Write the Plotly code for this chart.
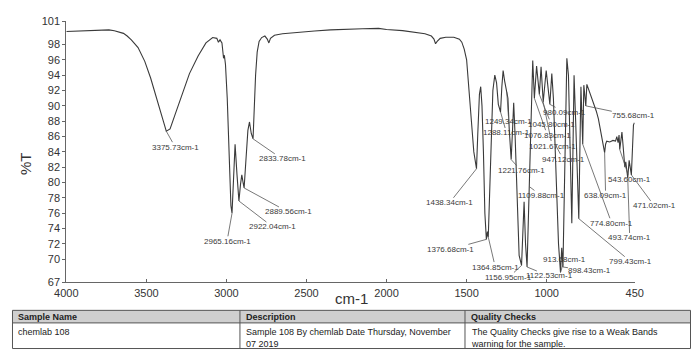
import numpy as np
import plotly.graph_objects as go

# ---- spectrum (wavenumber cm-1, %T) ----
wavenumber = [
    4000, 3900, 3800, 3734, 3700, 3673, 3643, 3620, 3594, 3552, 3510, 3473, 3431, 3401,
    3375.73, 3352, 3322, 3280, 3231, 3177, 3128, 3086, 3060, 3050, 3040, 3028, 3018, 3013,
    3006, 2995, 2982, 2972, 2965.16, 2957, 2946, 2934, 2922.04, 2912, 2904, 2896, 2889.56,
    2878, 2866, 2856, 2845, 2833.78, 2826, 2818, 2808, 2796, 2780, 2760, 2745, 2735, 2725,
    2700, 2650, 2550, 2450, 2350, 2250, 2150, 2050, 2000, 1900, 1820, 1760, 1720, 1704,
    1694, 1684, 1665, 1630, 1580, 1545, 1530, 1515, 1500, 1485, 1470, 1455, 1438.34, 1430,
    1420, 1412, 1404, 1395, 1386, 1376.68, 1370, 1364.85, 1356, 1346, 1336, 1324, 1313,
    1302, 1288.11, 1280, 1272, 1263, 1256, 1249.34, 1242, 1234, 1228, 1221.76, 1214, 1206,
    1197, 1186, 1172, 1156.95, 1150, 1141, 1132, 1122.53, 1116, 1109.88, 1102, 1094, 1087,
    1076.83, 1063, 1045.80, 1035, 1021.67, 1003, 980.09, 968, 958, 947.12, 938, 926, 913.68,
    906, 898.43, 890, 882, 874, 864, 853, 843, 836, 829, 819, 809, 799.43, 792, 786, 780,
    774.80, 768, 762, 755.68, 749, 737, 720, 707, 690, 677, 665, 657, 647, 638.09, 632, 625,
    606, 586, 570, 562, 554, 548, 543.60, 536, 530, 522, 512, 506, 493.74, 485, 478, 471.02,
    464, 458, 452,
]
transmittance = [
    99.7, 99.75, 99.85, 99.9, 99.8, 99.65, 99.45, 99.1, 98.6, 97.6, 95.8, 93.6, 90.8, 88.5,
    86.7, 87.0, 88.8, 91.3, 94.2, 96.5, 98.2, 98.9, 98.8, 98.3, 98.6, 98.2, 96.2, 96.6,
    95.4, 91.0, 82.0, 77.0, 76.0, 80.5, 85.0, 81.0, 77.6, 79.8, 81.0, 80.0, 79.3,
    83.0, 86.8, 87.9, 86.4, 85.7, 90.0, 94.0, 97.0, 98.4, 98.9, 99.1, 98.7, 98.2, 98.8,
    99.2, 99.4, 99.6, 99.75, 99.9, 100.0, 100.05, 100.1, 99.95, 99.8, 99.6, 99.4, 99.1, 98.7,
    98.1, 98.4, 98.8, 98.95, 98.95, 98.7, 98.3, 97.4, 96.0, 92.5, 88.0, 84.0, 81.8, 86.5,
    91.5, 92.5, 90.0, 84.0, 76.0, 72.6, 73.6, 72.9, 79.0, 87.0, 92.0, 94.0, 93.0,
    90.2, 89.2, 92.5, 94.6, 93.3, 92.4, 91.8, 91.0, 87.0, 84.2, 83.0, 86.5, 90.4,
    86.0, 78.0, 70.5, 69.2, 72.5, 77.5, 72.0, 69.0, 74.0, 79.5, 86.0, 93.0, 95.9,
    91.0, 95.2, 91.5, 95.1, 90.5, 94.6, 90.2, 94.2, 91.0, 85.0, 80.0, 72.0, 68.3,
    71.5, 69.0, 80.0, 91.0, 96.2, 94.0, 85.0, 74.7, 84.0, 94.0, 88.0, 80.0, 75.3, 85.0, 92.5, 88.5,
    85.0, 92.7, 91.5, 90.0, 92.8, 92.1, 91.3, 90.4, 89.3, 88.3, 87.0, 86.2, 84.8, 83.9, 85.0, 85.4,
    85.3, 85.5, 85.4, 86.0, 85.2, 86.2, 84.3, 86.0, 86.6, 84.6, 82.0, 82.7, 80.6, 82.9, 81.5, 81.0,
    84.5, 87.5, 87.8,
]

# ---- peak labels ----
peak_labels = [3375.73, 2833.78, 2889.56, 2922.04, 2965.16, 1438.34, 1376.68, 1364.85,
               1156.95, 1122.53, 913.68, 898.43, 799.43, 493.74, 774.80, 471.02, 638.09,
               543.60, 1109.88, 1221.76, 947.12, 1021.67, 1288.11, 1076.83, 1045.80,
               1249.34, 980.09, 755.68]
# label text offsets from the peak (pixels) - layout only
label_dx = [9, 29, 44, 34, -5, -27, -36, 7, -13, 22, 4, 27, 52, 2, 29, 23, 1, 10, 12, 10, 8,
            9, 6, 13, 12, 2, 15, 48]
label_dy = [16, 20, 24, 26, 28, 34, 10, 30, 12, 9, -13, 4, 43, 60, 79, 31, 43, 30, 9, 11, 15,
            44, 21, 37, 30, 29, 8, 10]

y_ticks = [67, 70, 72, 74, 76, 78, 80, 82, 84, 86, 88, 90, 92, 94, 96, 98, 101]
x_ticks = [4000, 3500, 3000, 2500, 2000, 1500, 1000, 450]

table_header = ["Sample Name", "Description", "Quality Checks"]
table_row = ["chemlab 108",
             "Sample 108 By chemlab Date Thursday, November<br>07 2019",
             "The Quality Checks give rise to a Weak Bands<br>warning for the sample."]

W, H = 700, 355
FONT = "Liberation Sans, Arial, sans-serif"
INK = "#333333"

fig = go.Figure()
fig.add_trace(go.Scatter(x=wavenumber, y=transmittance, mode="lines",
                         line=dict(color="#3a3a3a", width=1.1), hoverinfo="skip",
                         showlegend=False))

wn_inc = np.array(wavenumber[::-1])
t_inc = np.array(transmittance[::-1])
ann = []
for w, dx, dy in zip(peak_labels, label_dx, label_dy):
    ty = float(np.interp(w, wn_inc, t_inc))
    ann.append(dict(x=w, y=ty, xref="x", yref="y", text=f"{w:.2f}cm-1",
                    showarrow=True, arrowhead=0, arrowwidth=0.8, arrowcolor="#555555",
                    ax=dx, ay=dy, standoff=0, borderpad=0,
                    font=dict(size=8, color="#3a3a3a", family=FONT)))

# axis titles
ann.append(dict(x=14 / W, y=1 - 163 / H, xref="paper", yref="paper", text="%T",
                textangle=-90, showarrow=False, xanchor="center", yanchor="middle",
                font=dict(size=15, color=INK, family=FONT)))
ann.append(dict(x=350 / W, y=1 - 303 / H, xref="paper", yref="paper", text="cm-1",
                showarrow=False, xanchor="center", yanchor="middle",
                font=dict(size=15, color=INK, family=FONT)))

# ---- table drawn with shapes + text ----
t_top, t_mid, t_bot = 315, 328, 354.5
cols = [0.5, 235, 467, 699.5]
shapes = []
def px(xp):
    return xp / W
def py(yp):
    return 1 - yp / H
shapes.append(dict(type="rect", xref="paper", yref="paper", x0=px(cols[0]), x1=px(cols[-1]),
                   y0=py(t_mid), y1=py(t_top), fillcolor="#cfcfcf", line=dict(width=0), layer="below"))
for yy in (t_top, t_mid, t_bot):
    shapes.append(dict(type="line", xref="paper", yref="paper", x0=px(cols[0]), x1=px(cols[-1]),
                       y0=py(yy), y1=py(yy), line=dict(color="#555555", width=1)))
for xx in cols:
    shapes.append(dict(type="line", xref="paper", yref="paper", x0=px(xx), x1=px(xx),
                       y0=py(t_top), y1=py(t_bot), line=dict(color="#555555", width=1)))
for i, (h, r) in enumerate(zip(table_header, table_row)):
    x0 = cols[i] + 4
    ann.append(dict(x=px(x0), y=py((t_top + t_mid) / 2), xref="paper", yref="paper",
                    text=f"<b>{h}</b>", showarrow=False, xanchor="left", yanchor="middle",
                    font=dict(size=9, color="#222222", family=FONT)))
    ann.append(dict(x=px(x0), y=py(t_mid + 2), xref="paper", yref="paper",
                    text=r, showarrow=False, xanchor="left", yanchor="top", align="left",
                    font=dict(size=9, color="#222222", family=FONT)))

fig.update_layout(
    width=W, height=H, margin=dict(l=0, r=0, t=0, b=0),
    paper_bgcolor="white", plot_bgcolor="white",
    font=dict(family=FONT, color=INK, size=11),
    xaxis=dict(domain=[56 / W, 642 / W], range=[4000, 450], tickvals=x_ticks,
               ticktext=[str(v) for v in x_ticks], ticks="inside", ticklen=3,
               tickcolor="#666666", showline=True, linecolor="#666666", linewidth=1,
               showgrid=False, zeroline=False, tickfont=dict(size=11, color=INK)),
    yaxis=dict(domain=[1 - 286 / H, 1 - 16 / H], range=[67, 101], tickvals=y_ticks,
               ticks="outside", ticklen=3, tickcolor="#666666", showline=True,
               linecolor="#666666", linewidth=1, showgrid=False, zeroline=False,
               tickfont=dict(size=11, color=INK)),
    annotations=ann, shapes=shapes,
)

fig.write_html("out.html")
